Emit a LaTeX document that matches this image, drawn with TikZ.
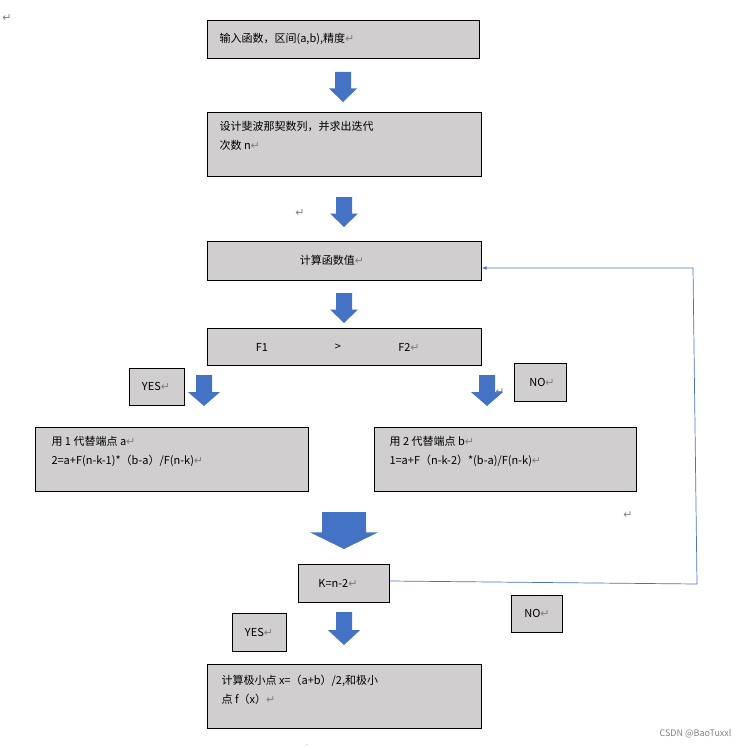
\documentclass[tikz,border=0pt]{standalone}
\usepackage{fontspec}
\setmainfont{Noto Sans CJK SC}
\newfontfamily\djv{DejaVu Sans}
\newcommand{\rt}{\textcolor{gray}{\djv ↵}}
\begin{document}
\begin{tikzpicture}[x=1pt,y=-1pt,
  box/.style={draw=black,fill=boxgray,line width=0.8pt,inner sep=0pt},
  ret/.style={text=gray,font=\djv\fontsize{11}{12}\selectfont},
  tx/.style={font=\fontsize{11}{15}\selectfont},
  tx2/.style={anchor=north west,align=left,font=\fontsize{11}{19}\selectfont}]
\definecolor{boxgray}{HTML}{D0CECE}
\definecolor{arrblue}{HTML}{4472C4}
\useasboundingbox (0,0) rectangle (749,749);
\newcommand{\blkarrow}[5]{%
  \fill[arrblue] ({#1-#4},#2) -- ({#1+#4},#2) -- ({#1+#4},{#2+#3*0.55}) -- ({#1+#5},{#2+#3*0.55}) -- (#1,{#2+#3}) -- ({#1-#5},{#2+#3*0.55}) -- ({#1-#4},{#2+#3*0.55}) -- cycle;}
\newcommand{\mybox}[5]{\node[box,minimum width={#4-#2},minimum height={#5-#3},anchor=north west] (#1) at (#2,#3) {};}
\mybox{b1}{207}{20}{479}{58}
\node[tx,anchor=west] (t1) at (216,39) {输入函数，区间(a,b),精度\rt};
\mybox{b2}{207}{112}{481}{176}
\node[tx2] (t2) at (216,118) {设计斐波那契数列，并求出迭代\\次数 n\rt};
\mybox{b3}{207}{241}{481}{280}
\node[tx] (t3) at (332,260) {计算函数值\rt};
\mybox{b4}{207}{328}{481}{365}
\node[tx] (f1) at (262,347) {F1};
\node[tx] (gt) at (338,347) {>};
\node[tx] (f2) at (409,347) {F2\rt};
\mybox{y1}{129}{368}{184}{405}
\node[tx] (ty1) at (156,386) {YES\rt};
\mybox{n1}{514}{363}{566}{401}
\node[tx] (tn1) at (542,382) {NO\rt};
\mybox{bl}{35}{427}{308}{491}
\node[tx2] (tl) at (48,433) {用 1 代替端点 a\rt\\2=a+F(n-k-1)*（b-a）/F(n-k)\rt};
\mybox{br}{374}{427}{636}{491}
\node[tx2] (tr) at (386,433) {用 2 代替端点 b\rt\\1=a+F（n-k-2）*(b-a)/F(n-k)\rt};
\mybox{bk}{298}{564}{389}{602}
\node[tx] (tk) at (338,583) {K=n-2\rt};
\mybox{y2}{232}{613}{286}{651}
\node[tx] (ty2) at (259,632) {YES\rt};
\mybox{n2}{511}{595}{562}{632}
\node[tx] (tn2) at (537,613) {NO\rt};
\mybox{b5}{207}{664}{481}{728}
\node[tx2] (t5) at (218,672) {计算极小点 x=（a+b）/2,和极小\\点 f（x）\rt};
\blkarrow{343}{72}{30}{8}{14}
\blkarrow{344}{197}{30}{8}{14}
\blkarrow{344}{293}{30}{8}{14}
\blkarrow{204}{375}{31}{8}{16}
\blkarrow{487}{375}{31}{8}{16}
\blkarrow{344}{512}{37}{22}{34}
\blkarrow{344}{612}{33}{8}{16}
\coordinate (c1) at (697,584);
\coordinate (c2) at (693,268);
\coordinate (c3) at (483,268);
\draw[arrblue,line width=0.7pt,-latex] (bk.east|-0,581) -- (c1) -- (c2) -- (b3.east|-c3);
\node[ret] (r1) at (7,18) {↵};
\node[ret] (r2) at (300,213) {↵};
\node[ret] (r3) at (628,515) {↵};
\node[ret] (r4) at (500,392) {↵};
\node[font=\fontsize{5}{6}\selectfont] (dot) at (307,745) {.};
\node[anchor=east,text=gray,font=\fontsize{9}{11}\selectfont] (wm) at (735,734) {CSDN @BaoTuxxl};
\end{tikzpicture}
\end{document}
